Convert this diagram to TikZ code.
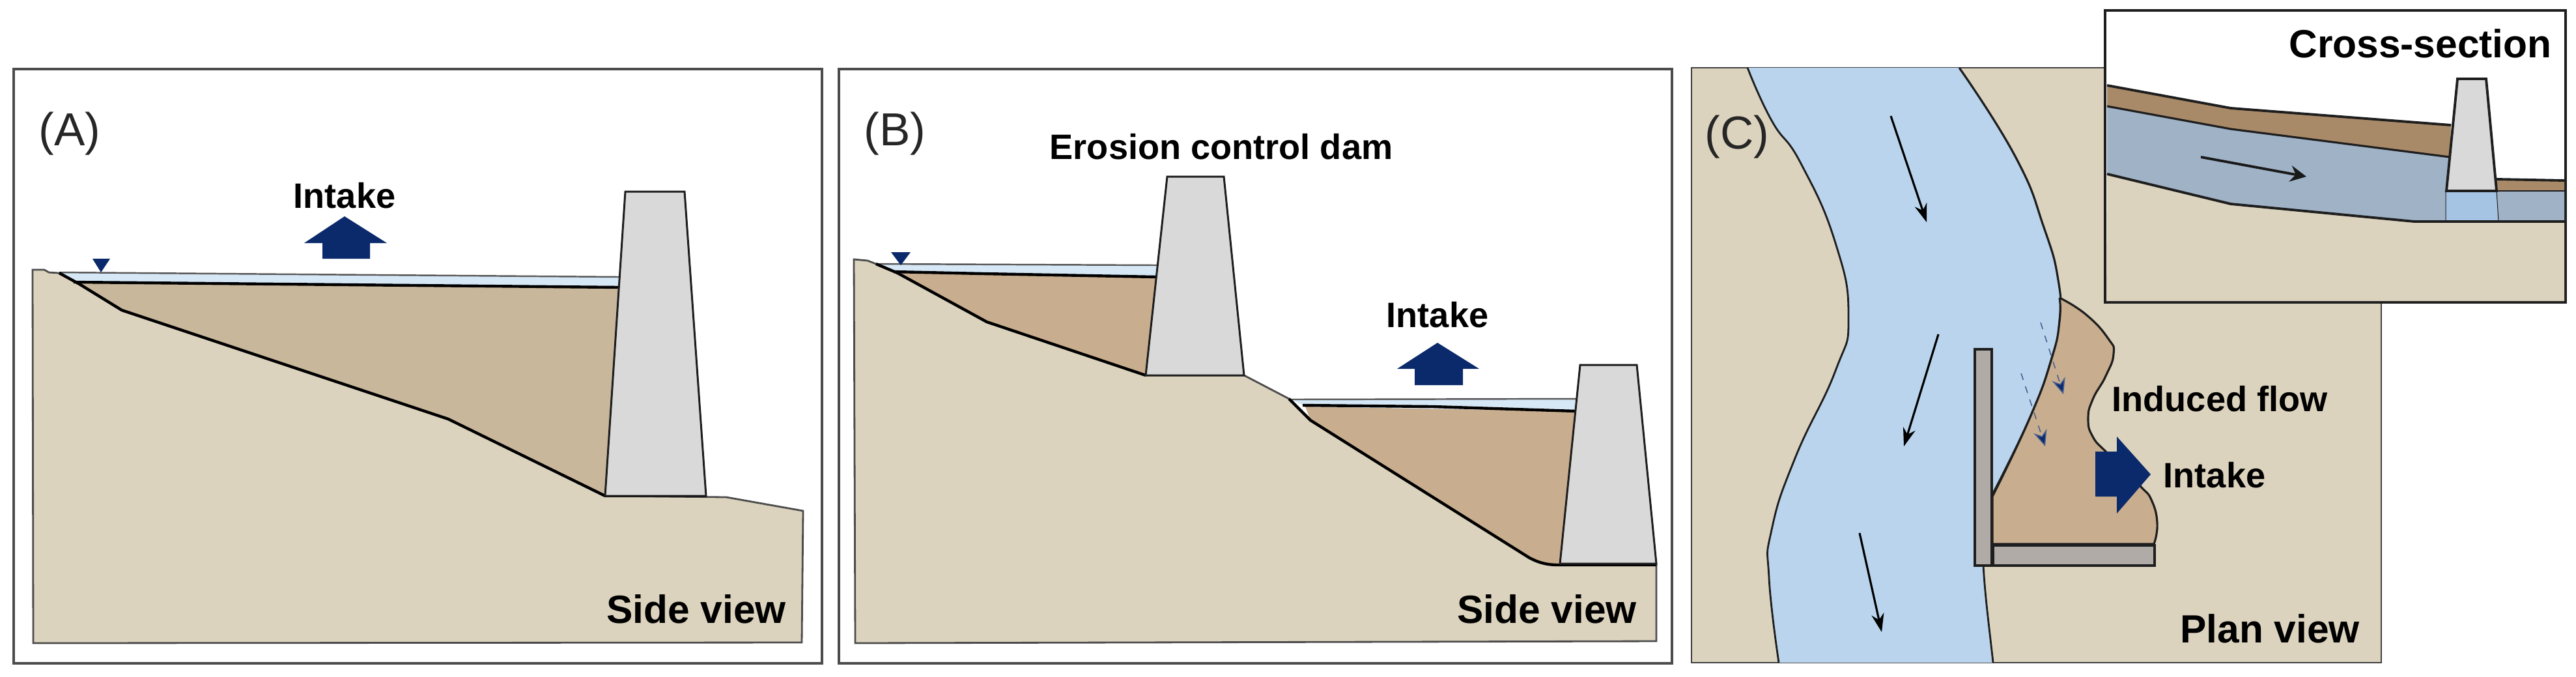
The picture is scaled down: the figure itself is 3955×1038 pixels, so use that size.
\documentclass[tikz,border=0pt]{standalone}
\usepackage{fontspec}
\setmainfont{Liberation Sans}
\definecolor{ground}{HTML}{DCD3BE}
\definecolor{sedA}{HTML}{C9B79C}
\definecolor{sedB}{HTML}{C8AD8E}
\definecolor{sedD}{HTML}{A98A68}
\definecolor{waterL}{HTML}{D6E7F6}
\definecolor{river}{HTML}{B9D4EC}
\definecolor{waterD}{HTML}{9FB2C6}
\definecolor{waterU}{HTML}{A5C3E3}
\definecolor{damgray}{HTML}{D9D9D9}
\definecolor{wallgray}{HTML}{B0ABA6}
\definecolor{navy}{HTML}{0B2A6B}
\definecolor{edge}{HTML}{1E1E1E}
\tikzset{
  panel/.style={draw=black!70,line width=1pt,fill=white},
  groundshape/.style={fill=ground,draw=black!70,line width=.8pt},
  bed/.style={draw=black,line width=1.25pt},
  dam/.style={fill=damgray,draw=edge,line width=.85pt},
  bigarrow/.style={fill=navy,draw=none},
  flow/.style={draw=black,line width=.9pt,-{Stealth[length=8pt,width=5.5pt]}},
  induced/.style={draw=navy!75,line width=.45pt,dashed,-{Stealth[length=7pt,width=6pt,fill=navy]}},
  lbl/.style={font=\bfseries\fontsize{15.4pt}{18pt}\selectfont,inner sep=0pt},
  lblbig/.style={font=\bfseries\fontsize{17.2pt}{20pt}\selectfont,inner sep=0pt},
  tag/.style={font=\fontsize{20.2pt}{24pt}\selectfont,inner sep=0pt,text=black!85},
  bank/.style={smooth,tension=.85}
}
\usetikzlibrary{arrows.meta}
\begin{document}
\begin{tikzpicture}[x=0.01cm,y=-0.01cm]
\useasboundingbox (0,0) rectangle (3955,1038);
%---------------- Panel A
\draw[panel] (21,106) rectangle (1262,1018);
\path[groundshape] (50,414) -- (68,414) -- (75,418) -- (90,419) -- (122,436) -- (187,476) -- (688,643) -- (929,761) -- (1115,763) -- (1233,784) -- (1231,986) -- (51,987) -- cycle;
\path[fill=sedA] (113,432) -- (951,440) -- (929,761) -- (688,643) -- (187,476) -- cycle;
\path[fill=waterL] (91,418) -- (951,425) -- (951,441) -- (113,433) -- cycle;
\draw[draw=black!65,line width=.7pt] (91,418) -- (951,425);
\draw[bed] (113,433) -- (951,441);
\draw[bed] (91,419) -- (122,436) -- (187,476) -- (688,643) -- (929,761) -- (1084,761);
\draw[dam] (960,294) -- (1051,294) -- (1084,761) -- (929,761) -- cycle;
\fill[navy] (142,397) -- (169,397) -- (155,418) -- cycle;
\fill[bigarrow] (529,332) -- (594,373) -- (568,373) -- (568,397) -- (495,397) -- (495,373) -- (467,373) -- cycle;
\node[tag] (tagA) at (107,205) {(A)};
\node[lbl] (intakeA) at (529,300) {Intake};
\node[lblbig] (sideA) at (1069,935) {Side view};
%---------------- Panel B
\draw[panel] (1288,106) rectangle (2567,1018);
\path[groundshape] (1311,398) -- (1332,400) -- (1345,405) -- (1378,419) -- (1515,494) -- (1759,576) -- (1910,576) -- (1979,612) -- (2012,645) -- (2348,856) .. controls (2365,865) and (2378,867) .. (2393,867) -- (2543,867) -- (2543,984) -- (1313,987) -- cycle;
\path[fill=sedB] (1378,419) -- (1510,420) -- (1776,425) -- (1759,576) -- (1515,494) -- cycle;
\path[fill=waterL] (1345,405) -- (1776,407) -- (1776,425) -- (1510,420) -- (1372,417) -- cycle;
\draw[draw=black!65,line width=.7pt] (1345,405) -- (1776,407);
\draw[bed] (1372,417) -- (1510,420) -- (1776,425);
\draw[bed] (1345,405) -- (1378,419) -- (1515,494) -- (1759,576);
\draw[dam] (1792,271) -- (1879,271) -- (1910,576) -- (1759,576) -- cycle;
\path[fill=sedB] (2004,624) -- (2420,631) -- (2395,865) -- (2393,867) .. controls (2378,867) and (2365,865) .. (2348,856) -- (2012,645) -- cycle;
\path[fill=waterL] (1983,613) -- (2420,612) -- (2420,631) -- (2004,624) -- cycle;
\draw[draw=black!65,line width=.7pt] (1983,613) -- (2420,612);
\draw[bed] (2000,622) -- (2200,624) -- (2420,631);
\draw[bed] (1979,612) -- (2012,645) -- (2348,856) .. controls (2365,865) and (2378,867) .. (2393,867) -- (2543,867);
\draw[dam] (2426,560) -- (2513,560) -- (2543,865) -- (2395,865) -- cycle;
\fill[navy] (1368,387) -- (1398,387) -- (1383,407) -- cycle;
\fill[bigarrow] (2207,526) -- (2271,566) -- (2246,566) -- (2246,591) -- (2172,591) -- (2172,566) -- (2145,566) -- cycle;
\node[tag] (tagB) at (1374,205) {(B)};
\node[lbl] (erosion) at (1875,225) {Erosion control dam};
\node[lbl] (intakeB) at (2207,483) {Intake};
\node[lblbig] (sideB) at (2375,935) {Side view};
%---------------- Panel C
\path[fill=ground,draw=black!75,line width=.8pt] (2597,104) rectangle (3656,1017);
\path[fill=river]
  plot[bank] coordinates {(2683,104) (2720,185) (2765,251) (2818,373) (2838,486) (2818,569) (2756,703) (2720,813) (2716,887) (2731,1017)}
  -- (3060,1017) -- (3045,868) -- (3058,761)
  -- plot[bank] coordinates {(3058,761) (3117,640) (3150,550) (3162,493) (3160,430) (3138,349) (3094,240) (3008,104)}
  -- cycle;
\draw[edge,line width=.8pt] plot[bank] coordinates {(2683,104) (2720,185) (2765,251) (2818,373) (2838,486) (2818,569) (2756,703) (2720,813) (2716,887) (2731,1017)};
\draw[edge,line width=.9pt] plot[bank] coordinates {(3058,761) (3117,640) (3150,550) (3162,493) (3160,430) (3138,349) (3094,240) (3008,104)};
\draw[edge,line width=.8pt] (3045,868) .. controls (3048,920) and (3055,970) .. (3060,1017);
\path[fill=sedB,draw=edge,line width=.9pt]
  plot[bank] coordinates {(3162,457) (3203,483) (3237,520) (3245,543) (3233,577) (3213,613) (3206,643) (3213,670) (3233,693) (3262,720) (3287,747) (3303,767) (3312,803) (3307,835)}
  -- (3059,835) -- (3059,762)
  -- plot[bank] coordinates {(3059,762) (3117,640) (3150,550) (3162,493) (3162,457)};
\draw[fill=wallgray,draw=edge,line width=.9pt] (3060,837) rectangle (3308,868);
\draw[fill=wallgray,draw=edge,line width=.9pt] (3032,536) rectangle (3058,868);
\coordinate (fa1) at (2903,178); \coordinate (fa2) at (2958,341);
\coordinate (fb1) at (2976,513); \coordinate (fb2) at (2923,685);
\coordinate (fc1) at (2855,818); \coordinate (fc2) at (2889,970);
\draw[flow] (fa1) -- (fa2);
\draw[flow] (fb1) -- (fb2);
\draw[flow] (fc1) -- (fc2);
\coordinate (ia1) at (3133,495); \coordinate (ia2) at (3168,605);
\coordinate (ib1) at (3103,573); \coordinate (ib2) at (3140,685);
\draw[induced] (ia1) -- (ia2);
\draw[induced] (ib1) -- (ib2);
\fill[bigarrow] (3217,693) -- (3250,693) -- (3250,670) -- (3302,728) -- (3250,788) -- (3250,762) -- (3217,762) -- cycle;
\node[tag] (tagC) at (2667,210) {(C)};
\node[lbl] (induced) at (3408,612) {Induced flow};
\node[lbl] (intakeC) at (3400,729) {Intake};
\node[lblbig] (plan) at (3485,965) {Plan view};
%---------------- Inset
\draw[fill=white,draw=edge,line width=1.2pt] (3232,16) rectangle (3939,464);
\path[fill=ground] (3235,267) -- (3425,313) -- (3707,340) -- (3937,340) -- (3937,462) -- (3234,462) -- cycle;
\path[fill=waterD] (3235,163) -- (3425,198) -- (3761,241) -- (3755,293) -- (3755,340) -- (3707,340) -- (3425,313) -- (3235,267) -- cycle;
\path[fill=waterD] (3833,293) -- (3937,293) -- (3937,340) -- (3836,340) -- cycle;
\path[fill=waterU] (3755,293) -- (3833,293) -- (3836,340) -- (3755,340) -- cycle;
\path[fill=sedD] (3235,131) -- (3425,166) -- (3763,192) -- (3761,241) -- (3425,198) -- (3235,163) -- cycle;
\path[fill=sedD] (3833,275) -- (3937,277) -- (3937,293) -- (3833,293) -- cycle;
\draw[edge,line width=1.1pt] (3235,131) -- (3425,166) -- (3763,192);
\draw[edge,line width=.9pt] (3235,163) -- (3425,198) -- (3761,241);
\draw[edge,line width=1.1pt] (3235,267) -- (3425,313) -- (3707,340) -- (3938,340);
\draw[edge,line width=1.1pt] (3833,275) -- (3938,277);
\draw[edge,line width=.7pt] (3833,293) -- (3938,293);
\draw[edge,line width=.3pt] (3755,293) -- (3755,340) (3833,293) -- (3836,340);
\draw[dam,line width=1.1pt] (3773,121) -- (3817,121) -- (3833,293) -- (3756,293) -- cycle;
\coordinate (xs1) at (3379,241); \coordinate (xs2) at (3541,271);
\draw[draw=black!90,line width=1.1pt,-{Stealth[length=7pt,width=7pt]}] (xs1) -- (xs2);
\node[lblbig] (cross) at (3716,67) {Cross-section};
\end{tikzpicture}
\end{document}
